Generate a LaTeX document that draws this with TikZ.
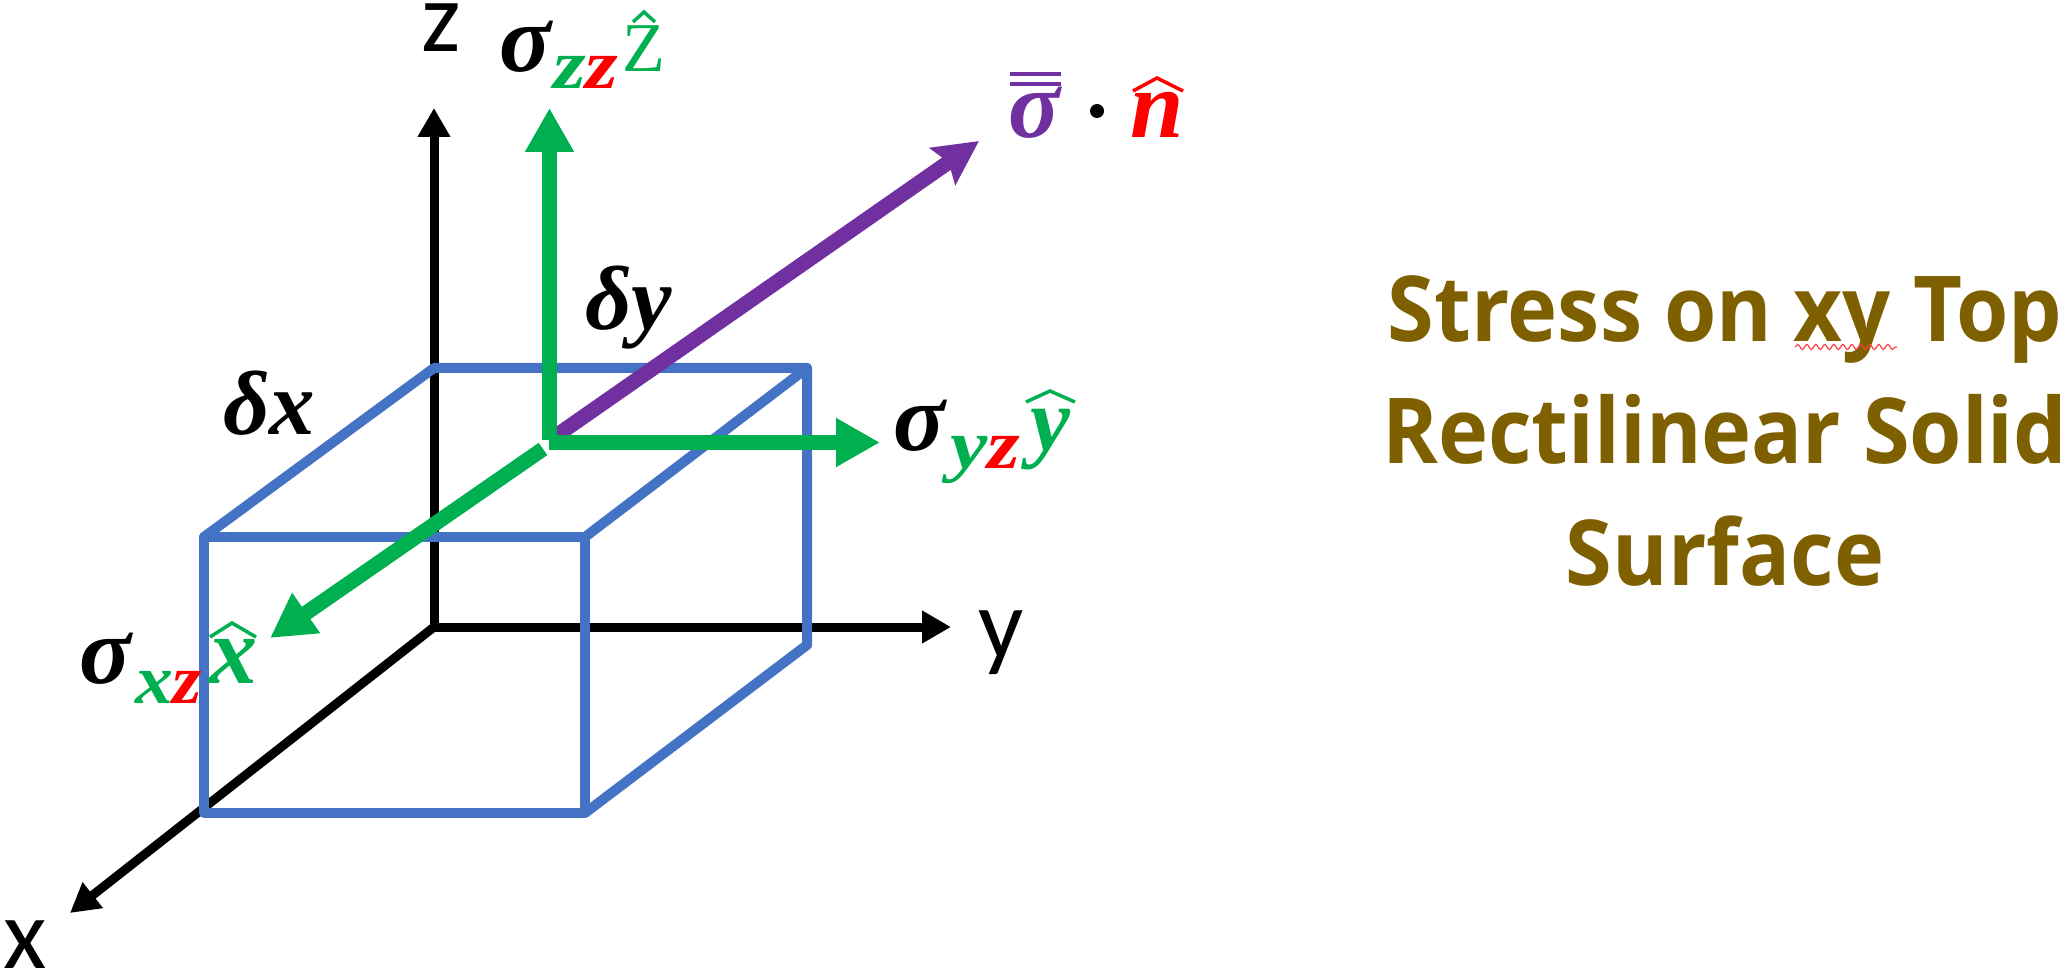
\documentclass[tikz,border=0pt]{standalone}
\usepackage{fontspec}
\setmainfont{Liberation Serif}
\newfontfamily\axisfont{Carlito}
\newfontfamily\titlefont[FakeStretch=0.93]{Open Sans}
\newfontfamily\subfont[FakeStretch=1.2]{Liberation Serif}
\newfontfamily\subfontb[FakeStretch=1.08]{Liberation Serif}
\usetikzlibrary{arrows.meta,decorations.pathmorphing}
\definecolor{boxblue}{HTML}{4472C4}
\definecolor{vecgreen}{HTML}{00B050}
\definecolor{vecpurple}{HTML}{7030A0}
\definecolor{titlebrown}{HTML}{7F6000}
\newcommand{\fs}[1]{\fontsize{#1}{#1}\selectfont}
\tikzset{
  lab/.style={anchor=base west,inner sep=0pt,outer sep=0pt,font=\bfseries\itshape},
  sublab/.style={anchor=base west,inner sep=0pt,outer sep=0pt,font=\subfont\bfseries\itshape\fs{70}},
  axlab/.style={anchor=base west,inner sep=0pt,outer sep=0pt,font=\axisfont\fs{100}},
  axisline/.style={black,line width=9pt,-{Triangle[length=29pt,width=31pt]}},
  boxline/.style={boxblue,line width=10pt,line cap=round,line join=round},
  greenvec/.style={vecgreen,line width=15pt,-{Triangle[length=44pt,width=46pt]}},
  purplevec/.style={vecpurple,line width=15pt,-{Stealth[length=44pt,width=44pt,inset=7pt]}},
  hatmark/.style={line width=3.5pt,line join=miter},
  barmark/.style={vecpurple,line width=4.5pt},
}
\begin{document}
\begin{tikzpicture}[x=1pt,y=-1pt]
\useasboundingbox (0,0) rectangle (2065,973);
% axes
\coordinate (O) at (434,627);
\coordinate (zt) at (434,108);
\coordinate (yt) at (951,627);
\coordinate (xt) at (70,913);
\draw[axisline] (O) -- (zt);
\draw[axisline] (O) -- (yt);
\draw[axisline] (O) -- (xt);
% box
\coordinate (ftl) at (204,537);
\coordinate (ftr) at (585,537);
\coordinate (fbl) at (204,813);
\coordinate (fbr) at (585,813);
\coordinate (btl) at (434,368);
\coordinate (btr) at (807,368);
\coordinate (bbr) at (807,645);
\draw[boxline] (ftl) -- (ftr) -- (fbr) -- (fbl) -- cycle;
\draw[boxline] (ftl) -- (btl) -- (btr) -- (ftr);
\draw[boxline] (btr) -- (bbr) -- (fbr);
% vectors
\coordinate (cz) at (549.5,440);
\coordinate (cy) at (549,442.5);
\coordinate (cp) at (553,438);
\coordinate (cx) at (543,449);
\coordinate (gz) at (549.5,108);
\coordinate (gy) at (880,442.5);
\coordinate (gx) at (270,638);
\coordinate (pt) at (979,141);
\draw[purplevec] (cp) -- (pt);
\draw[greenvec] (cz) -- (gz);
\draw[greenvec] (cy) -- (gy);
\draw[greenvec] (cx) -- (gx);
% axis labels
\node[axlab] (zl) at (421,52) {z};
\node[axlab] (yl) at (978,658) {y};
\node[axlab] (xl) at (4,968) {x};
% delta labels
\node[lab,font=\bfseries\itshape\fs{91}] (dy) at (585,330) {δy};
\node[lab,font=\bfseries\itshape\fs{91}] (dx) at (223,435) {δx};
% sigma zz
\node[lab,font=\bfseries\itshape\fs{96}] (sz) at (499,72) {σ};
\node[sublab] (szs) at (553,89) {\textcolor{vecgreen}{z}\textcolor{red}{z}};
\node[lab,font=\fs{70},text=vecgreen] (zh) at (622,72) {Z};
\draw[vecgreen,hatmark] (633,22) -- (644,12) -- (655,22);
% sigma yz
\node[lab,font=\bfseries\itshape\fs{96}] (sy) at (893,450) {σ};
\node[sublab] (sys) at (950,468) {\textcolor{vecgreen}{y}\textcolor{red}{z}};
\node[lab,font=\bfseries\itshape\fs{90},text=vecgreen] (yh) at (1030,450) {y};
\draw[vecgreen,hatmark] (1026,402) -- (1050,391) -- (1075,402);
% sigma xz
\node[lab,font=\bfseries\itshape\fs{96}] (sx) at (79,683) {σ};
\node[sublab,font=\subfontb\bfseries\itshape\fs{70}] (sxs) at (135,703) {\textcolor{vecgreen}{x}\textcolor{red}{z}};
\node[lab,font=\bfseries\itshape\fs{96},text=vecgreen] (xh) at (209,683) {x};
\draw[vecgreen,hatmark] (210,637) -- (232,623) -- (256,637);
% sigma dot n
\node[lab,font=\bfseries\itshape\fs{96},text=vecpurple] (sn) at (1008,138) {σ};
\draw[barmark] (1010,74) -- (1061,74);
\draw[barmark] (1010,84) -- (1061,84);
\fill[black] (1097,111) circle (7pt);
\node[lab,font=\bfseries\itshape\fs{96},text=red] (nh) at (1130,138) {n};
\draw[red,hatmark] (1133,91) -- (1157,78) -- (1183,91);
% title
\node[anchor=center,inner sep=0pt,align=center,text=titlebrown,font=\titlefont\bfseries\fontsize{91}{122}\selectfont] (title) at (1725,431) {Stress on xy Top\\Rectilinear Solid\\Surface};
\draw[red!75,line width=1.2pt,decorate,decoration={snake,segment length=9pt,amplitude=2.5pt}] (1795,347) -- (1897,347);
\end{tikzpicture}
\end{document}
